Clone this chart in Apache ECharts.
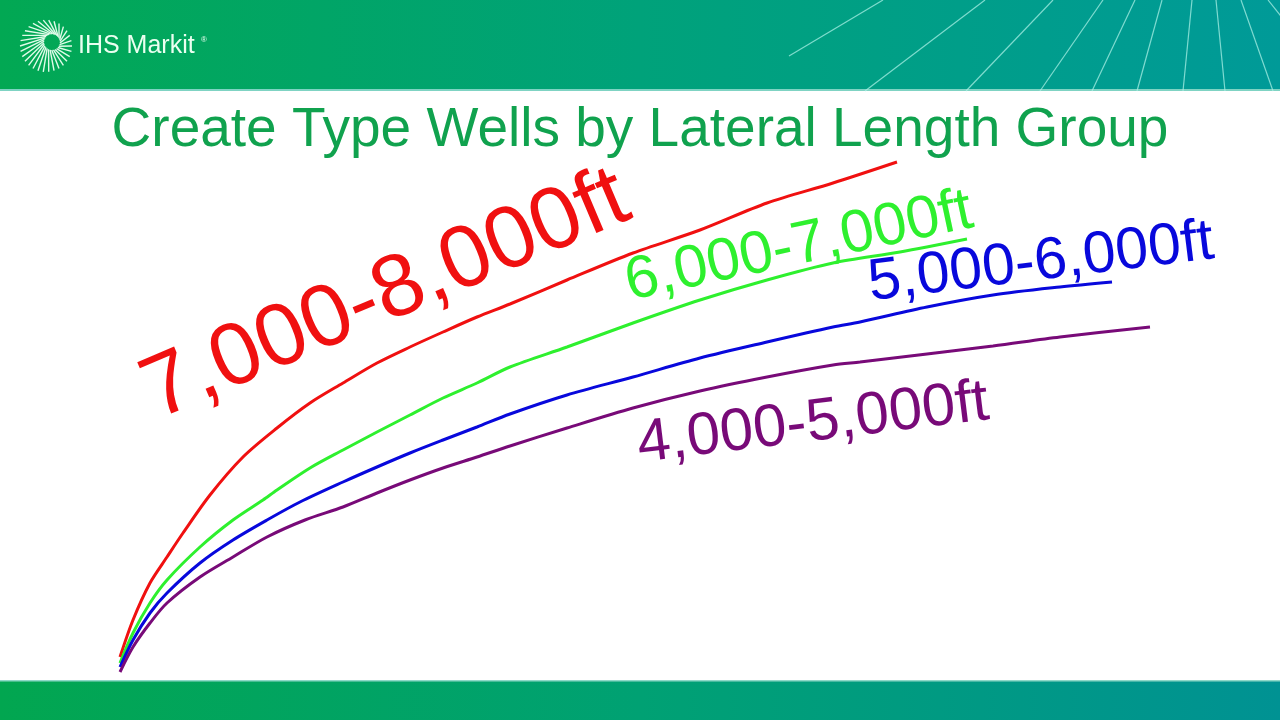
<!DOCTYPE html>
<html>
<head>
<meta charset="utf-8">
<script src="https://cdn.jsdelivr.net/npm/echarts@6/dist/echarts.min.js"></script>
<style>
html,body{margin:0;padding:0;background:#fff;}
#chart{width:1280px;height:720px;}
</style>
</head>
<body>
<div id="chart"></div>
<script>
// Series values: [time, cumulative production] (arbitrary units)
var group7000_8000 = [[0,23],[13,60],[30,97],[47,123],[63,147],[90,185],[123,223],[157,252],[190,277],[223,297],[257,317],[290,333],[323,348],[357,363],[390,376],[447,400],[513,427],[580,450],[647,477],[713,497],[777,518]];
var group6000_7000 = [[0,17],[13,47],[30,77],[47,100],[80,133],[113,160],[143,180],[157,190],[190,212],[223,230],[257,248],[290,265],[323,282],[357,297],[390,313],[447,333],[513,357],[580,380],[647,400],[713,417],[780,428],[847,441]];
var group5000_6000 = [[0,13],[13,40],[30,67],[47,87],[80,117],[113,140],[147,160],[180,178],[223,198],[257,213],[290,227],[323,240],[357,253],[390,266],[447,285],[513,303],[580,322],[647,338],[713,353],[740,358],[807,373],[873,385],[940,393],[992,398]];
var group4000_5000 = [[0,8],[13,33],[30,57],[47,77],[80,103],[113,123],[147,143],[185,160],[223,173],[257,187],[290,200],[323,212],[357,223],[390,234],[447,252],[513,272],[580,289],[647,303],[713,315],[740,318],[807,326],[873,334],[940,343],[1030,353]];

var seriesNames = ['7,000-8,000ft','6,000-7,000ft','5,000-6,000ft','4,000-5,000ft'];
var seriesColors = ['#f01010','#2ef02e','#0808dc','#780a78'];
var titleText = 'Create Type Wells by Lateral Length Group';
var brandText = 'IHS Markit';

var chart = echarts.init(document.getElementById('chart'));

var graphics = [];
// header band
graphics.push({type:'rect', shape:{x:0,y:0,width:1280,height:91}, style:{fill:new echarts.graphic.LinearGradient(0,0,1,0,[{offset:0,color:'#02a853'},{offset:0.5,color:'#00a27a'},{offset:1,color:'#009a98'}])}, z:0});
graphics.push({type:'rect', shape:{x:0,y:89,width:1280,height:2}, style:{fill:'#7fd3c3'}, z:1});
// decorative rays in header
var rays = [[789,56,883,0],[865,91,985,0],[966,91,1053,0],[1040,91,1103,0],[1092,91,1135,0],[1137,91,1162,0],[1183,91,1192,0],[1225,91,1216,0],[1273,91,1241,0],[1300,40,1268,0]];
rays.forEach(function(r){
  graphics.push({type:'line', shape:{x1:r[0],y1:r[1],x2:r[2],y2:r[3]}, style:{stroke:'rgba(170,240,230,0.75)',lineWidth:1.2}, z:2});
});
// logo sunburst
var cx=46, cy=46, icx=52, icy=42;
for (var i=0;i<30;i++){
  var a = i*2*Math.PI/30;
  var ai = a+0.55;
  graphics.push({type:'line', shape:{x1:icx+8*Math.cos(ai), y1:icy+8*Math.sin(ai), x2:cx+26*Math.cos(a), y2:cy+26*Math.sin(a)}, style:{stroke:'rgba(235,255,240,0.95)',lineWidth:1.4}, z:3});
}
graphics.push({type:'text', x:78, y:46, style:{text:brandText, fill:'#eafff0', font:'300 25px "Liberation Sans", Arial, sans-serif', textAlign:'left', textVerticalAlign:'middle', align:'left', verticalAlign:'middle'}, z:3});
graphics.push({type:'text', x:201, y:40, style:{text:'®', fill:'#eafff0', font:'8px "Liberation Sans", Arial, sans-serif', textAlign:'left', textVerticalAlign:'middle', align:'left', verticalAlign:'middle'}, z:3});
// title
graphics.push({type:'text', x:640, y:158, style:{text:titleText, fill:'#10a24e', font:'55px "Liberation Sans", Arial, sans-serif', textAlign:'center', textVerticalAlign:'bottom', align:'center', verticalAlign:'bottom'}, z:3});
// bottom band
graphics.push({type:'rect', shape:{x:0,y:681,width:1280,height:39}, style:{fill:new echarts.graphic.LinearGradient(0,0,1,0,[{offset:0,color:'#02a650'},{offset:0.5,color:'#00a173'},{offset:1,color:'#009293'}])}, z:0});
graphics.push({type:'rect', shape:{x:0,y:680,width:1280,height:1.5}, style:{fill:'#8fd8c8'}, z:1});

// rotated group labels
var labelPos = [[386,296,23,88],[799,247,12,60],[1041,263,7,59],[813,424,7,60]];
labelPos.forEach(function(p, k){
  graphics.push({type:'text', x:p[0], y:p[1], rotation:p[2]*Math.PI/180,
    style:{text:seriesNames[k], fill:seriesColors[k], font:p[3]+'px "Liberation Sans", Arial, sans-serif', textAlign:'center', textVerticalAlign:'middle', align:'center', verticalAlign:'middle'}, z:5});
});

var dataSets = [group7000_8000, group6000_7000, group5000_6000, group4000_5000];
var series = dataSets.map(function(d, k){
  return {type:'line', name:seriesNames[k], data:d, smooth:0.3, showSymbol:false, symbol:'none',
    lineStyle:{color:seriesColors[k], width:3}, itemStyle:{color:seriesColors[k]}, z:4, animation:false};
});

chart.setOption({
  backgroundColor:'#ffffff',
  animation:false,
  grid:{left:120, top:140, width:1040, height:540},
  xAxis:{type:'value', min:0, max:1040, show:false},
  yAxis:{type:'value', min:0, max:540, show:false},
  graphic:graphics,
  series:series
});
</script>
</body>
</html>
